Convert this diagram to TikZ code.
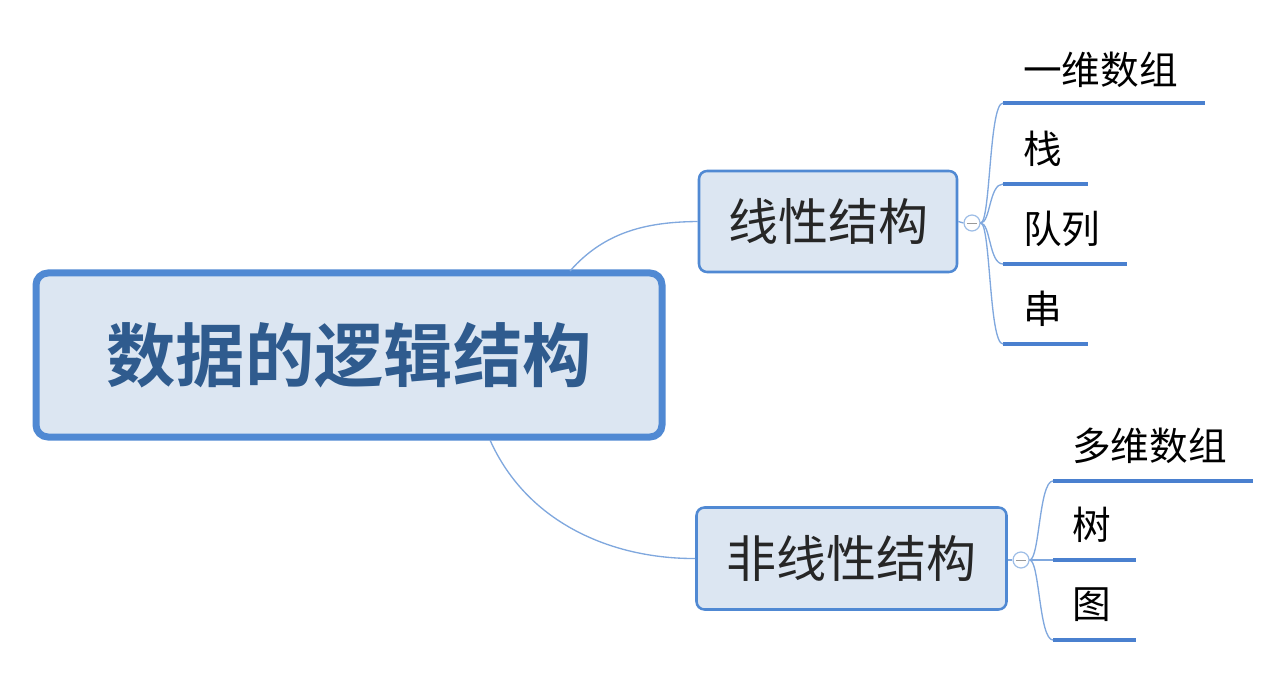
\documentclass[tikz,border=0pt]{standalone}
\usepackage{fontspec}
\newfontfamily\cjk{Noto Sans CJK SC}[BoldFont={Noto Sans CJK SC Bold}]
\definecolor{boxfill}{HTML}{DCE6F2}
\definecolor{boxline}{HTML}{5089D3}
\definecolor{roottext}{HTML}{2F5B8E}
\definecolor{conn}{HTML}{80A8DE}
\definecolor{leafline}{HTML}{4A80CF}
\definecolor{knob}{HTML}{9DBDE6}
\begin{document}
\begin{tikzpicture}[x=0.75pt,y=-0.75pt,
  rootbox/.style={draw=boxline,fill=boxfill,line width=5.25pt,rounded corners=9pt,
    minimum width=469.5pt,minimum height=123pt,inner sep=0pt,
    font=\cjk\bfseries\fontsize{52pt}{52pt}\selectfont,text=roottext},
  midbox/.style={draw=boxline,fill=boxfill,line width=1.9pt,rounded corners=6pt,
    inner sep=0pt,font=\cjk\fontsize{37.5pt}{37.5pt}\selectfont,text=black!85},
  leaf/.style={anchor=west,inner sep=0pt,font=\cjk\fontsize{29pt}{29pt}\selectfont,text=black},
  uline/.style={draw=leafline,line width=3pt},
  link/.style={draw=conn,line width=1pt},
  knobc/.style={circle,draw=knob,fill=white,line width=0.9pt,minimum size=12pt,inner sep=0pt}
]
\useasboundingbox (0,0) rectangle (1288,673);

% main nodes
\node[rootbox] (root) at (349,355) {数据的逻辑结构};
\node[midbox,minimum width=193.5pt,minimum height=75.75pt] (lin) at (828,221.5) {线性结构};
\node[midbox,minimum width=232.5pt,minimum height=76.5pt] (non) at (851.5,558.5) {非线性结构};

% root connectors
\coordinate (r1) at (570,271);
\coordinate (r2) at (490,440);
\draw[link] (r1) .. controls (606,230) and (650,222) .. (lin.west);
\draw[link] (r2) .. controls (528,525) and (615,559) .. (non.west);

% collapse knobs
\node[knobc] (k1) at (972,223) {};
\node[knobc] (k2) at (1021,560) {};
\draw[link] (lin.east) -- (k1.west);
\draw[link] (non.east |- k2) -- (k2.west);
\draw[gray!80,line width=0.7pt] ([xshift=-3.5pt]k1.center) -- ([xshift=3.5pt]k1.center);
\draw[gray!80,line width=0.7pt] ([xshift=-3.5pt]k2.center) -- ([xshift=3.5pt]k2.center);

% linear leaves
\coordinate (u1) at (1003,103);
\coordinate (u2) at (1003,184);
\coordinate (u3) at (1003,264);
\coordinate (u4) at (1003,344);
\coordinate (e1) at (1205,103);
\coordinate (e2) at (1088,184);
\coordinate (e3) at (1127,264);
\coordinate (e4) at (1088,344);
\node[leaf] (t1) at (1023,70) {一维数组};
\node[leaf] (t2) at (1023,149) {栈};
\node[leaf] (t3) at (1023,229) {队列};
\node[leaf] (t4) at (1023,309) {串};
\foreach \i in {1,2,3,4}{
  \draw[uline] (u\i) -- (e\i);
  \draw[link] (k1.east) .. controls +(10,0) and +(-14,0) .. (u\i);
}

% nonlinear leaves
\coordinate (v1) at (1053,481);
\coordinate (v2) at (1053,560);
\coordinate (v3) at (1053,640);
\coordinate (f1) at (1253,481);
\coordinate (f2) at (1136,560);
\coordinate (f3) at (1136,640);
\node[leaf] (s1) at (1072,446) {多维数组};
\node[leaf] (s2) at (1072,525) {树};
\node[leaf] (s3) at (1072,605) {图};
\foreach \i in {1,2,3}{
  \draw[uline] (v\i) -- (f\i);
  \draw[link] (k2.east) .. controls +(10,0) and +(-14,0) .. (v\i);
}
\end{tikzpicture}
\end{document}
